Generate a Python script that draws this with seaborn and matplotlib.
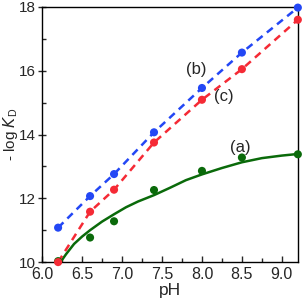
import matplotlib
matplotlib.use('Agg')
import matplotlib.pyplot as plt
import numpy as np
import pandas as pd
import seaborn as sns
from matplotlib.ticker import MultipleLocator

# measured points
ph = [6.2, 6.6, 6.9, 7.4, 8.0, 8.5, 9.2]
kd_a = [10.03, 10.77, 11.28, 12.26, 12.86, 13.28, 13.38]
kd_b = [11.08, 12.07, 12.76, 14.07, 15.46, 16.57, 17.98]
kd_c = [10.0, 11.58, 12.27, 13.75, 15.09, 16.05, 17.6]

# fitted curve for (a)
ph_fit = [6.23, 6.3, 6.4, 6.5, 6.6, 6.75, 6.9, 7.05, 7.2, 7.4, 7.6, 7.8, 8.0, 8.25, 8.5, 8.75, 9.0, 9.2]
kd_fit = [10.0, 10.25, 10.57, 10.8, 11.0, 11.27, 11.5, 11.72, 11.9, 12.1, 12.33, 12.57, 12.75, 12.95, 13.13, 13.26, 13.34, 13.39]

blue = '#2347f5'
red = '#f52a35'
green = '#0a6a0a'

sns.set_style('ticks')
plt.rcParams['font.family'] = ['Liberation Sans', 'DejaVu Sans']
plt.rcParams['font.size'] = 11.5

fig = plt.figure(figsize=(3.03, 3.03), dpi=100)
ax = fig.add_axes([0.139, 0.135, 0.844, 0.842])

df = pd.DataFrame({'pH': ph, 'a': kd_a, 'b': kd_b, 'c': kd_c})
fit = pd.DataFrame({'pH': ph_fit, 'a': kd_fit})

sns.lineplot(data=fit, x='pH', y='a', color=green, lw=1.8, ax=ax)
sns.lineplot(data=df, x='pH', y='b', color=blue, lw=1.8, ls=(0, (3, 2.2)), ax=ax)
sns.lineplot(data=df, x='pH', y='c', color=red, lw=1.8, ls=(0, (3, 2.2)), ax=ax)
for col, c in [('a', green), ('b', blue), ('c', red)]:
    ax.scatter(df['pH'], df[col], s=34, color=c, edgecolor='none', zorder=5, clip_on=False)

ax.text(7.93, 16.05, '(b)', ha='center', va='center', fontsize=12)
ax.text(8.27, 15.2, '(c)', ha='center', va='center', fontsize=12)
ax.text(8.48, 13.6, '(a)', ha='center', va='center', fontsize=12)

ax.set_xlim(6.0, 9.2)
ax.set_ylim(10, 18)
ax.xaxis.set_major_locator(MultipleLocator(0.5))
ax.xaxis.set_minor_locator(MultipleLocator(0.25))
ax.yaxis.set_major_locator(MultipleLocator(2))
ax.yaxis.set_minor_locator(MultipleLocator(1))
ax.xaxis.set_major_formatter(matplotlib.ticker.FormatStrFormatter('%.1f'))
ax.tick_params(which='both', direction='in', labelsize=11.5, width=1)
ax.tick_params(which='major', length=4)
ax.tick_params(which='minor', length=3)
ax.tick_params(axis='y', which='major', direction='inout', length=6, pad=1.5, labelsize=11)
for s in ax.spines.values():
    s.set_visible(True)
    s.set_linewidth(1)
    s.set_color('black')

ax.set_xlabel('pH', fontsize=12.5, labelpad=1)
ax.set_ylabel('- log $\\it{K}$$_\\mathregular{D}$', fontsize=11)
ax.yaxis.set_label_coords(-0.088, 0.5)

fig.savefig('out.png', dpi=100)
